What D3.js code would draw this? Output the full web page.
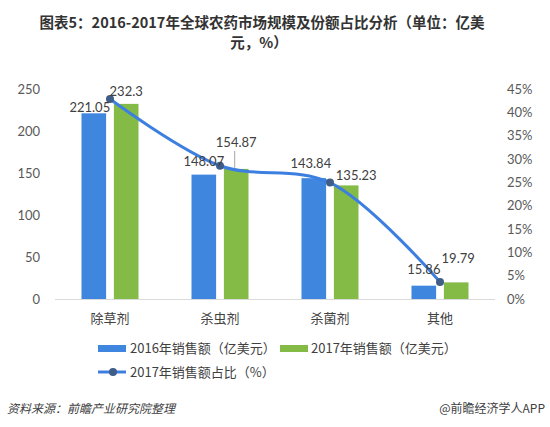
<!DOCTYPE html>
<html><head><meta charset="utf-8">
<script src="https://cdn.jsdelivr.net/npm/d3@7"></script>
<style>body{margin:0;background:#fff;} svg{display:block;}</style>
</head><body>
<svg id="c" width="550" height="427"></svg>
<script>
const categories = ["除草剂", "杀虫剂", "杀菌剂", "其他"];
const sales2016 = [221.05, 148.07, 143.84, 15.86];
const sales2017 = [232.3, 154.87, 135.23, 19.79];
const share2017 = [42.84, 28.56, 24.94, 3.65];
const leftTicks = [0, 50, 100, 150, 200, 250];
const rightTicks = [0, 5, 10, 15, 20, 25, 30, 35, 40, 45];
const seriesNames = ["2016年销售额（亿美元）", "2017年销售额（亿美元）", "2017年销售额占比（%）"];

const svg = d3.select("#c");
const cjk = "'Noto Sans CJK SC', sans-serif";
const num = "Lato, 'Noto Sans', sans-serif";
const blue = "#3f86df", green = "#84ba46", lineC = "#3d7fe0", markC = "#3f5d86";

// title
const title = svg.append("text").attr("text-anchor", "middle").attr("font-family", cjk)
  .attr("font-weight", "bold").attr("font-size", 14.5).attr("fill", "#333");
title.append("tspan").attr("x", 262).attr("y", 28).text("图表5：2016-2017年全球农药市场规模及份额占比分析（单位：亿美");
title.append("tspan").attr("x", 259).attr("y", 48).text("元，%）");

const x0 = 55, x1 = 495, yTop = 89, yBot = 299;
const x = d3.scaleBand().domain(categories).range([x0, x1]);
const xs = d3.scaleBand().domain([0, 1]).range([0, 57]).paddingInner(0.24);
const y = d3.scaleLinear().domain([0, 250]).range([yBot, yTop]);
const y2 = d3.scaleLinear().domain([0, 45]).range([yBot, yTop]);

// axis line
svg.append("line").attr("x1", x0).attr("x2", x1).attr("y1", yBot + 0.5).attr("y2", yBot + 0.5)
  .attr("stroke", "#d9d9d9").attr("stroke-width", 1);

// left axis
const gl = svg.append("g").attr("transform", `translate(${x0},0)`)
  .call(d3.axisLeft(y).tickValues(leftTicks).tickSize(0).tickPadding(15));
gl.select(".domain").remove();
gl.selectAll("text").attr("font-family", num).attr("font-size", 13).attr("fill", "#595959");

// right axis
const gr = svg.append("g").attr("transform", `translate(${x1},0)`)
  .call(d3.axisRight(y2).tickValues(rightTicks).tickSize(0).tickPadding(12).tickFormat(d => d + "%"));
gr.select(".domain").remove();
gr.selectAll("text").attr("font-family", num).attr("font-size", 13).attr("fill", "#595959");

// category labels
svg.selectAll(".cat").data(categories).enter().append("text")
  .attr("x", d => x(d) + x.bandwidth() / 2).attr("y", 323)
  .attr("text-anchor", "middle").attr("font-family", cjk).attr("font-size", 13).attr("fill", "#404040")
  .text(d => d);

const off = (x.bandwidth() - 57) / 2;
// bars
const series = [sales2016, sales2017];
const colors = [blue, green];
series.forEach((vals, si) => {
  svg.selectAll(".b" + si).data(vals).enter().append("rect")
    .attr("x", (d, i) => x(categories[i]) + off + xs(si))
    .attr("width", xs.bandwidth())
    .attr("y", d => y(d)).attr("height", d => yBot - y(d))
    .attr("fill", colors[si]);
});

// line
const lineGen = d3.line()
  .x((d, i) => x(categories[i]) + x.bandwidth() / 2)
  .y(d => y2(d))
  .curve(d3.curveCatmullRom.alpha(0.5));
svg.append("path").datum(share2017).attr("d", lineGen)
  .attr("fill", "none").attr("stroke", lineC).attr("stroke-width", 3);
svg.selectAll(".m").data(share2017).enter().append("circle")
  .attr("cx", (d, i) => x(categories[i]) + x.bandwidth() / 2)
  .attr("cy", d => y2(d)).attr("r", 4).attr("fill", markC);

// data labels
const lbl = (px, py, t) => svg.append("text").attr("x", px).attr("y", py)
  .attr("text-anchor", "middle").attr("font-family", num).attr("font-size", 13).attr("fill", "#404040").text(t);
const bx = (i, si) => x(categories[i]) + off + xs(si) + xs.bandwidth() / 2;
// 2016 labels
const dx16 = [-4, 0, -3, 0];
const dy16 = [-1, -9, -10, -12];
sales2016.forEach((v, i) => lbl(bx(i, 0) + dx16[i], y(v) + dy16[i], v));
// 2017 labels
const dx17 = [0, 0, 10, 2];
const dy17 = [-8, -22, -5, -19];
sales2017.forEach((v, i) => lbl(bx(i, 1) + dx17[i], y(v) + dy17[i], v));
// leader line for 154.87
svg.append("line").attr("x1", bx(1, 1) - 1.5).attr("x2", bx(1, 1) - 1.5)
  .attr("y1", y(sales2017[1]) - 18).attr("y2", y(sales2017[1]) - 1)
  .attr("stroke", "#a6a6a6").attr("stroke-width", 1);

// legend
const lg = svg.append("g").attr("font-family", cjk).attr("font-size", 13).attr("fill", "#404040");
lg.append("rect").attr("x", 98).attr("y", 345).attr("width", 28).attr("height", 7).attr("fill", blue);
lg.append("text").attr("x", 130).attr("y", 353).text(seriesNames[0]);
lg.append("rect").attr("x", 280).attr("y", 345).attr("width", 28).attr("height", 7).attr("fill", green);
lg.append("text").attr("x", 311).attr("y", 353).text(seriesNames[1]);
lg.append("line").attr("x1", 98).attr("x2", 126).attr("y1", 372).attr("y2", 372)
  .attr("stroke", lineC).attr("stroke-width", 3);
lg.append("circle").attr("cx", 113).attr("cy", 372).attr("r", 4).attr("fill", markC);
lg.append("text").attr("x", 130).attr("y", 377).text(seriesNames[2]);

// footer
svg.append("text").attr("x", 7).attr("y", 413).attr("font-family", cjk).attr("font-size", 12)
  .attr("font-style", "italic").attr("fill", "#404040").text("资料来源：前瞻产业研究院整理");
svg.append("text").attr("x", 545).attr("y", 413).attr("text-anchor", "end").attr("font-family", cjk)
  .attr("font-size", 12).attr("fill", "#404040").text("@前瞻经济学人APP");
</script>
</body></html>
